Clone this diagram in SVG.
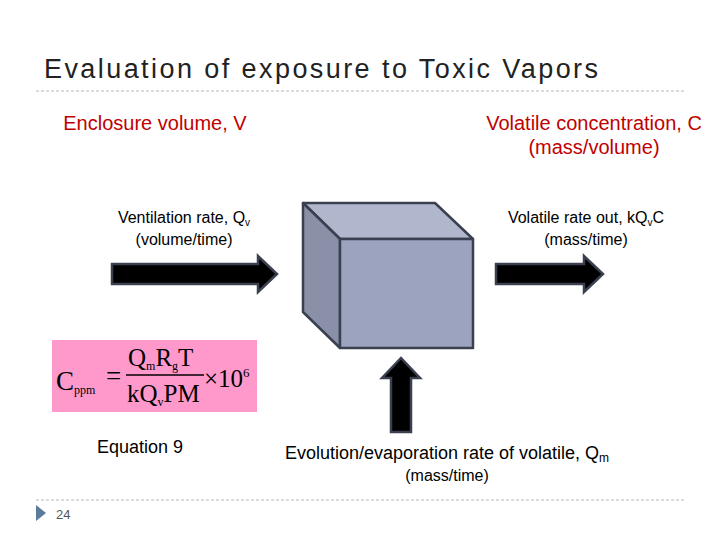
<svg xmlns="http://www.w3.org/2000/svg" width="720" height="540" viewBox="0 0 720 540">
<style>
text{font-family:"Liberation Sans",Arial,sans-serif}
.r{fill:#c00000;font-size:20px}
.b{fill:#000;font-size:16px}
.c{fill:#000;font-size:18px}
.arr{fill:#000;stroke:#3a4050;stroke-width:2.5}
.eq{font-family:"Liberation Serif","Times New Roman",serif;fill:#000}
</style>
<rect width="720" height="540" fill="#fff"/>
<text x="44" y="78" font-size="27" fill="#222" textLength="554" lengthAdjust="spacing">Evaluation of exposure to Toxic Vapors</text>
<line x1="36" y1="91" x2="685" y2="91" stroke="#b8b8b8" stroke-dasharray="3,2"/>
<text class="r" x="155" y="130" text-anchor="middle">Enclosure volume, V</text>
<text class="r" x="594" y="130" text-anchor="middle">Volatile concentration, C</text>
<text class="r" x="594" y="154" text-anchor="middle">(mass/volume)</text>
<g id="inlet-label"><text class="b" x="184" y="223" text-anchor="middle">Ventilation rate, Q<tspan font-size="10" dy="3">v</tspan></text>
<text class="b" x="184" y="245" text-anchor="middle">(volume/time)</text></g>
<g id="outlet-label"><text class="b" x="586" y="223" text-anchor="middle">Volatile rate out, kQ<tspan font-size="10" dy="3">v</tspan><tspan dy="-3">C</tspan></text>
<text class="b" x="586" y="245" text-anchor="middle">(mass/time)</text></g>
<g id="enclosure" stroke="#3a4050" stroke-width="2.5" stroke-linejoin="round">
<polygon points="303,203 435,203 473,239 340,239" fill="#b0b6cc"/>
<polygon points="303,203 340,239 340,348 303,312" fill="#8a90a8"/>
<rect x="340" y="239" width="133" height="109" fill="#9ca3bf"/>
</g>
<g id="connectors">
<polygon class="arr" points="112,264 258,264 258,256 277,274 258,292 258,284 112,284"/>
<polygon class="arr" points="496,264 584,264 584,256 603,274 584,292 584,284 496,284"/>
<polygon class="arr" points="391,432 391,378 382,378 401,358 420,378 411,378 411,432"/>
</g>
<g id="equation">
<rect x="52" y="340" width="205" height="72" fill="#ff99cc"/>
<text class="eq" x="56" y="390" font-size="27">C<tspan font-size="12" dy="4">ppm</tspan></text>
<text class="eq" x="106" y="385" font-size="27">=</text>
<text class="eq" x="128" y="366" font-size="25">Q<tspan font-size="12" dy="4">m</tspan><tspan dy="-4">R</tspan><tspan font-size="12" dy="4">g</tspan><tspan dy="-4">T</tspan></text>
<line x1="126" y1="375" x2="204" y2="375" stroke="#000" stroke-width="1.3"/>
<text class="eq" x="127" y="402" font-size="25">kQ<tspan font-size="12" dy="4">v</tspan><tspan dy="-4">PM</tspan></text>
<text class="eq" x="204" y="387" font-size="25">×10<tspan font-size="13" dy="-10">6</tspan></text>
</g>
<text class="c" x="140" y="453" text-anchor="middle">Equation 9</text>
<g id="source-label"><text class="c" x="447" y="459" text-anchor="middle">Evolution/evaporation rate of volatile, Q<tspan font-size="12" dy="3">m</tspan></text>
<text class="b" x="447" y="481" text-anchor="middle">(mass/time)</text></g>
<line x1="36" y1="500" x2="685" y2="500" stroke="#b8b8b8" stroke-dasharray="3,2"/>
<polygon points="36,505 46,513 36,521" fill="#5b7b9b"/>
<text x="56" y="519" font-size="13" fill="#555">24</text>
</svg>
